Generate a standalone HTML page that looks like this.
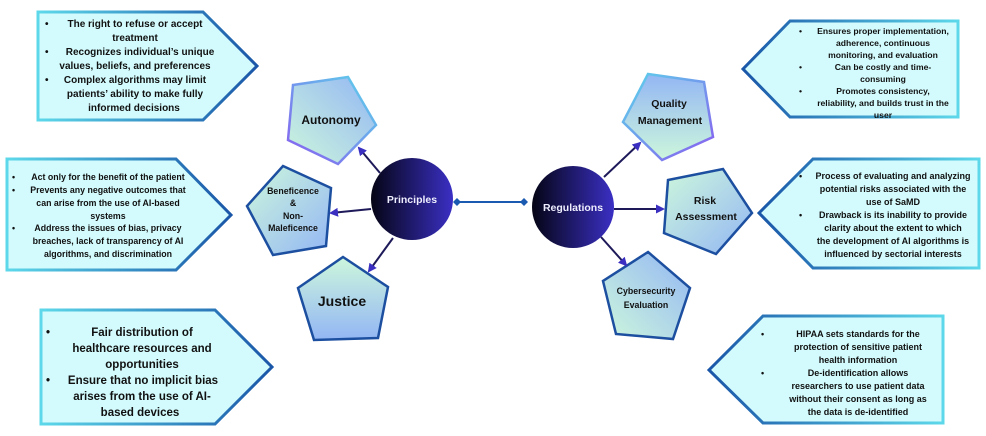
<!DOCTYPE html>
<html><head><meta charset="utf-8"><style>
html,body{margin:0;padding:0;background:#fff;}
svg{display:block;}
text{font-family:"Liberation Sans",sans-serif;font-weight:bold;fill:#111;text-anchor:middle;}
.b{text-anchor:start;}
</style></head><body>
<svg width="986" height="436" viewBox="0 0 986 436" xmlns="http://www.w3.org/2000/svg">
<defs>
<linearGradient id="bl" x1="0" y1="0" x2="1" y2="0"><stop offset="0" stop-color="#5dd8ea"/><stop offset="1" stop-color="#1a56a8"/></linearGradient>
<linearGradient id="br" x1="0" y1="0" x2="1" y2="0"><stop offset="0" stop-color="#1a56a8"/><stop offset="1" stop-color="#5dd8ea"/></linearGradient>
<linearGradient id="pf" x1="0" y1="0" x2="1" y2="1"><stop offset="0" stop-color="#cdf7dc"/><stop offset="1" stop-color="#93b6f4"/></linearGradient>
<linearGradient id="pf2" x1="1" y1="0" x2="0" y2="1"><stop offset="0" stop-color="#93b6f4"/><stop offset="1" stop-color="#cdf7dc"/></linearGradient>
<linearGradient id="pf3" x1="0" y1="0" x2="0" y2="1"><stop offset="0" stop-color="#93b6f4"/><stop offset="1" stop-color="#cdf7dc"/></linearGradient>
<linearGradient id="pf4" x1="0" y1="0" x2="0" y2="1"><stop offset="0" stop-color="#cdf7dc"/><stop offset="1" stop-color="#93b6f4"/></linearGradient>
<linearGradient id="ps" x1="0" y1="1" x2="1" y2="0"><stop offset="0" stop-color="#8a5cf0"/><stop offset="1" stop-color="#5ad6ea"/></linearGradient>
<linearGradient id="ps2" x1="0" y1="0" x2="1" y2="1"><stop offset="0" stop-color="#5ad6ea"/><stop offset="1" stop-color="#8a5cf0"/></linearGradient>
<linearGradient id="cf" x1="0" y1="0" x2="1" y2="0"><stop offset="0" stop-color="#050515"/><stop offset="1" stop-color="#3a2fc4"/></linearGradient>
<marker id="ar" markerWidth="9" markerHeight="9" refX="7" refY="4.5" orient="auto" markerUnits="userSpaceOnUse"><path d="M0,0 L9,4.5 L0,9 Z" fill="#3a2fc0"/></marker>
</defs>

<polygon points="38,12 203,12 257,66 203,120 38,120" fill="#d3fbfd" stroke="url(#bl)" stroke-width="3"/>
<polygon points="7,159 176,159 231,215 176,270 7,270" fill="#d3fbfd" stroke="url(#bl)" stroke-width="3"/>
<polygon points="41,310 215,310 272,367 215,424 41,424" fill="#d3fbfd" stroke="url(#bl)" stroke-width="3"/>
<polygon points="743,69 790,21 958,21 958,117 790,117" fill="#d3fbfd" stroke="url(#br)" stroke-width="3"/>
<polygon points="759,213 813,159 979,159 979,268 813,268" fill="#d3fbfd" stroke="url(#br)" stroke-width="3"/>
<polygon points="709,370 763,316 943,316 943,423 763,423" fill="#d3fbfd" stroke="url(#br)" stroke-width="3"/>

<g font-size="10">
<text class="b" x="45" y="27">•</text><text x="135" y="27">The right to refuse or accept</text>
<text x="135" y="41">treatment</text>
<text class="b" x="45" y="55">•</text><text x="140" y="55">Recognizes individual’s unique</text>
<text x="135" y="69">values, beliefs, and preferences</text>
<text class="b" x="45" y="83">•</text><text x="135" y="83">Complex algorithms may limit</text>
<text x="135" y="97">patients’ ability to make fully</text>
<text x="134" y="111">informed decisions</text>
</g>
<g font-size="8.8">
<text class="b" x="12" y="180">•</text><text x="108" y="180">Act only for the benefit of the patient</text>
<text class="b" x="12" y="193">•</text><text x="108" y="193">Prevents any negative outcomes that</text>
<text x="108" y="206">can arise from the use of AI-based</text>
<text x="108" y="219">systems</text>
<text class="b" x="12" y="231">•</text><text x="108" y="231">Address the issues of bias, privacy</text>
<text x="108" y="244">breaches, lack of transparency of AI</text>
<text x="108" y="257">algorithms, and discrimination</text>
</g>
<g font-size="11.5">
<text class="b" x="46" y="336">•</text><text x="142" y="336">Fair distribution of</text>
<text x="142" y="352">healthcare resources and</text>
<text x="142" y="368">opportunities</text>
<text class="b" x="46" y="384">•</text><text x="143" y="384">Ensure that no implicit bias</text>
<text x="142" y="400">arises from the use of AI-</text>
<text x="140" y="416">based devices</text>
</g>
<g font-size="8.6">
<text class="b" x="799" y="34">•</text><text x="883" y="34">Ensures proper implementation,</text>
<text x="883" y="46">adherence, continuous</text>
<text x="883" y="58">monitoring, and evaluation</text>
<text class="b" x="799" y="70">•</text><text x="883" y="70">Can be costly and time-</text>
<text x="883" y="82">consuming</text>
<text class="b" x="799" y="94">•</text><text x="883" y="94">Promotes consistency,</text>
<text x="883" y="106">reliability, and builds trust in the</text>
<text x="883" y="118">user</text>
</g>
<g font-size="9">
<text class="b" x="799" y="179">•</text><text x="893" y="179">Process of evaluating and analyzing</text>
<text x="893" y="192">potential risks associated with the</text>
<text x="893" y="205">use of SaMD</text>
<text class="b" x="799" y="218">•</text><text x="893" y="218">Drawback is its inability to provide</text>
<text x="893" y="231">clarity about the extent to which</text>
<text x="893" y="244">the development of AI algorithms is</text>
<text x="893" y="257">influenced by sectorial interests</text>
</g>
<g font-size="9">
<text class="b" x="761" y="337">•</text><text x="858" y="337">HIPAA sets standards for the</text>
<text x="858" y="350">protection of sensitive patient</text>
<text x="858" y="363">health information</text>
<text class="b" x="761" y="376">•</text><text x="858" y="376">De-identification allows</text>
<text x="858" y="389">researchers to use patient data</text>
<text x="858" y="402">without their consent as long as</text>
<text x="858" y="415">the data is de-identified</text>
</g>

<polygon points="293,85 348,77 376,125 338,164 288,140" fill="url(#pf2)" stroke="url(#ps)" stroke-width="2.5"/>
<text x="331" y="124" font-size="12">Autonomy</text>
<polygon points="283,166 331,188 326,246 273,255 247,206" fill="url(#pf)" stroke="#1d4fa0" stroke-width="2.5"/>
<g font-size="8.8"><text x="293" y="194">Beneficence</text><text x="293" y="206">&amp;</text><text x="293" y="219">Non-</text><text x="293" y="231">Maleficence</text></g>
<polygon points="343,257 388,287 378,338 314,340 298,288" fill="url(#pf4)" stroke="#1d4fa0" stroke-width="2.5"/>
<text x="342" y="306" font-size="14">Justice</text>

<polygon points="648,74 704,82 713,137 662,160 623,122" fill="url(#pf3)" stroke="url(#ps2)" stroke-width="2.5"/>
<g font-size="10.5"><text x="669" y="107">Quality</text><text x="670" y="124">Management</text></g>
<polygon points="668,180 723,169 752,213 716,254 664,233" fill="url(#pf)" stroke="#1d4fa0" stroke-width="2.5"/>
<g font-size="10.5"><text x="705" y="204">Risk</text><text x="706" y="220">Assessment</text></g>
<polygon points="648,252 690,288 673,339 616,334 603,281" fill="url(#pf2)" stroke="#1d4fa0" stroke-width="2.5"/>
<g font-size="8.8"><text x="646" y="294">Cybersecurity</text><text x="646" y="308">Evaluation</text></g>

<g stroke="#1e1a5a" stroke-width="2" fill="none">
<line x1="380" y1="173" x2="359" y2="148" marker-end="url(#ar)"/>
<line x1="371" y1="209" x2="331" y2="213" marker-end="url(#ar)"/>
<line x1="393" y1="238" x2="369" y2="271" marker-end="url(#ar)"/>
<line x1="604" y1="177" x2="640" y2="143" marker-end="url(#ar)"/>
<line x1="614" y1="209" x2="663" y2="209" marker-end="url(#ar)"/>
<line x1="601" y1="237" x2="626" y2="265" marker-end="url(#ar)"/>
</g>
<line x1="457" y1="202" x2="524" y2="202" stroke="#1a5ab0" stroke-width="2"/>
<polygon points="453,202 457,198 461,202 457,206" fill="#1a5ab0"/>
<polygon points="520,202 524,198 528,202 524,206" fill="#1a5ab0"/>

<circle cx="412" cy="199" r="41" fill="url(#cf)"/>
<text x="412" y="203" font-size="10.5" style="fill:#eef">Principles</text>
<circle cx="573" cy="207" r="41" fill="url(#cf)"/>
<text x="573" y="211" font-size="10.5" style="fill:#eef">Regulations</text>
</svg>
</body></html>
